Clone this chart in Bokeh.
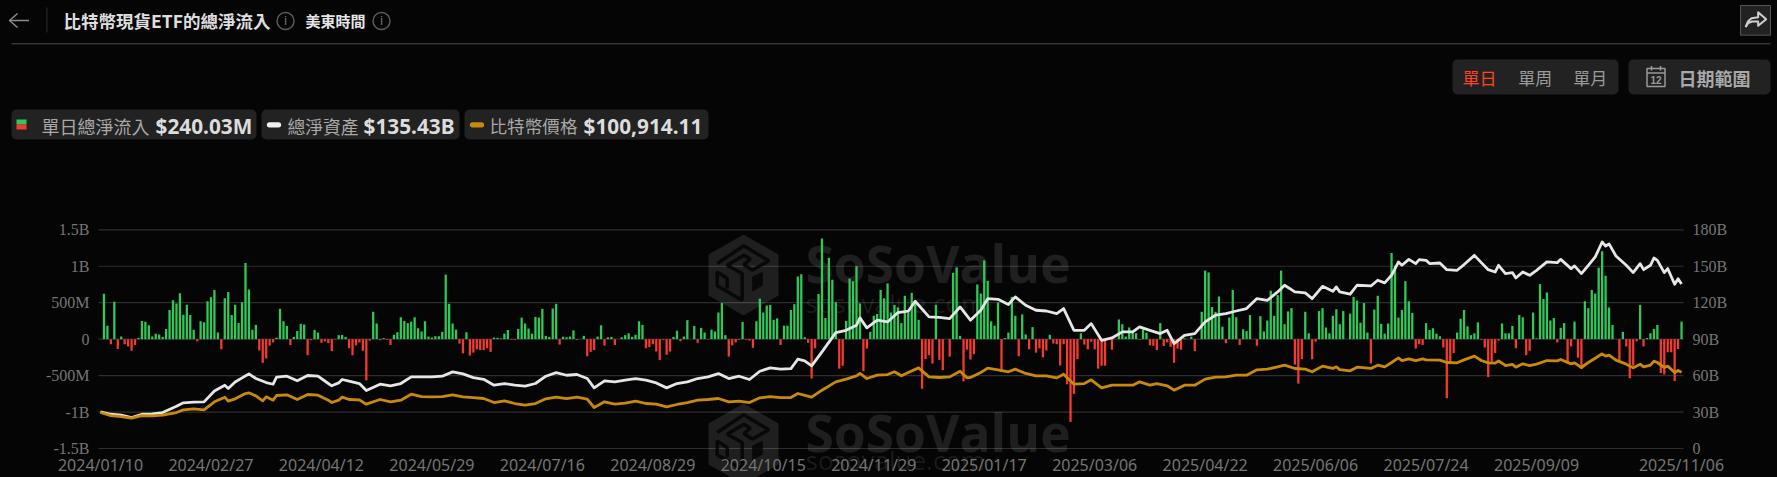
from bokeh.plotting import figure
from bokeh.layouts import column
from bokeh.models import (Range1d, LinearAxis, FixedTicker)
from bokeh.core.properties import value
from bokeh.embed import file_html
from bokeh.resources import INLINE

BG = "#050505"
CJK = "Noto Sans CJK TC"

# daily net inflow, USD million, one bar per trading day from 2024/01/11
flows_a = [624,183,-70,513,-135,37,-70,-100,-160,-80,
           15,250,240,190,35,75,65,30,140,400,
           535,490,630,335,470,330,130,-30,245,230,
           520,575,675,90,-140,560,645,330,470,220,
           505,1045,680,130,195,-155,-325,-265,-90,-45,
           20,415,245,180,-80,30,110,210,200,-220,
           -15,125,90,-50,-30,-55,-165,-5,55,58,
           30,-125,-220,-85,-45,-160,-565,-20,375,215,
           -15,15,-10,-80,60,95,300,250,220,240,
           300,150,105,245,35,20,40,40,100,885,
           485,215,130,-60,-195,95,-225,-185,-140,-150,
           -150,-125,-175]
flows_b = [22,18,8,75,125,-8,-10,140,295,215,
           145,75,305,295,415,45,30,420,485,-75,
           35,25,35,120,-10,0,45,-235,-175,-150,
           35,190,-90,25,30,-80,0,25,55,80,
           30,60,245,195,-125,-110,-70,-170,-285,-10,
           -215,-170,30,115,-30,35,260,0,180,-50,
           155,90,-5,130,105,365,495,55,-240,-85,
           -45,-10,235,-10,-20,-120,245,555,365,460,
           470,265,285,-80,185,185,400,480,860,890,
           25,-50,-540,-125,620,1380,290,1115,815,505,
           -405,-365,250,830,795,1000,490,-440,-130,100,
           320,345,675,560,765,365,470,435,220,595,
           365,635,505,265,-680,-275,-220]
flows_c = [-335,470,-285,-425,0,-240,910,985,45,-580,
           -145,-280,-205,750,625,1080,800,245,185,505,
           -450,15,90,580,320,-235,340,65,-140,165,
           -185,-125,-250,-155,60,-60,-70,-360,-70,-620,
           -1135,-750,-275,80,-75,-140,-35,-140,-405,-365,
           -365,0,-145,0,270,205,35,160,115,80,
           -10,135,90,-85,-90,-150,220,-95,-45,-105,
           -325,-130,-145,10,0,35,-165,0,375,940,
           915,440,375,585,170,-55,295,675,300,-80,
           135,110,330,0,-90,315,105,255,665,320,
           605,940,205,380,425,-350,-610,-275,375,80,
           -275,-35,385,425,160,80,320,410,205,385,
           0,350,580,530,225,495,90,-335]
flows_d = [405,595,210,75,215,1180,1010,295,400,795,
           520,360,-130,-70,-80,220,125,150,75,40,
           -115,-810,-320,-190,90,280,400,175,55,80,
           230,-10,-115,-520,-320,-190,-20,215,80,80,
           180,-125,330,300,-220,-160,365,10,755,550,
           640,255,290,-45,155,220,-335,-100,240,-255,
           -410,520,425,675,625,980,1205,870,435,195,
           0,-305,100,-100,-535,-365,-30,470,-100,15,
           80,140,195,-465,-485,-180,-180,-575,-135,240]
flows = flows_a + flows_b + flows_c + flows_d
flow_days = list(range(1, len(flows) + 1))

# total net assets, USD billion
asset_days = [0,3,6,9,12,15,18,22,24,27,30,33,36,37,39,42,43,45,48,50,51,54,57,60,63,66,67,69,70,72,75,77,81,84,87,90,93,96,99,102,105,108,111,114,
              117,120,123,126,129,132,135,138,141,143,146,149,152,155,158,161,164,167,170,173,176,179,182,185,188,191,194,197,200,202,204,206,209,
              213,216,219,220,222,225,228,231,234,236,240,243,246,249,252,255,257,260,263,265,268,271,274,277,279,282,285,287,290,293,296,299,301,304,307,309,311,314,317,320,323,326,329,332,335,338,341,343,346,349,351,354,357,358,
              359,362,364,368,370,372,374,376,377,379,381,382,384,385,388,390,393,395,398,400,402,404,405,407,409,410,412,414,416,419,422,423,426,427,429,431,433,435,436,437,439,442,444,446,447,449,450,451,453,454,456,457,458]
asset_vals = [30.2,28.2,27.4,25.5,28.2,28.5,29.6,34.8,37.6,38.1,38.4,47.4,52.1,49.4,54.8,59.8,61.4,57.6,54.3,52.9,58.7,59.5,55.7,60.1,59.5,53.5,51.6,54.0,56.8,55.4,53.5,47.7,52.9,51.6,53.5,59.0,59.0,59.0,59.5,63.1,61.4,58.4,57.0,52.1,
              53.5,52.1,51.3,53.5,59.5,62.5,60.3,60.9,57.6,49.9,55.7,54.8,56.2,57.6,56.2,54.0,49.9,53.5,54.8,57.6,59.0,61.7,57.6,59.5,56.8,63.6,66.4,65.3,65.8,73.5,72.1,68.0,79.5,
              95.4,97.3,101.5,107.5,99.3,105.6,104.2,111.9,113.0,121.2,108.3,108.0,106.9,116.5,105.6,113.8,123.4,122.8,118.5,124.8,117.9,113.8,113.2,111.1,115.2,97.3,97.3,102.8,89.1,91.0,96.0,96.0,100.1,97.3,94.6,97.3,86.4,93.2,94.6,104.2,109.7,111.1,113.2,115.2,123.4,122.0,128.9,134.4,128.9,128.1,123.4,133.5,129.4,133.0,
              128.9,127.0,134.4,133.8,138.5,136.3,142.6,153.6,150.8,155.7,152.2,155.5,154.9,152.2,152.7,147.2,146.7,151.4,159.0,153.0,147.2,145.3,150.8,144.0,144.8,140.4,145.3,142.6,146.7,153.6,153.0,155.7,148.1,150.3,144.0,150.8,157.7,170.0,166.7,168.4,158.5,150.8,144.8,152.2,147.2,150.8,156.8,154.9,144.8,148.1,135.2,139.8,135.43]

# bitcoin price, USD thousand
price_days = [0,3,6,9,12,15,18,22,24,27,30,33,36,37,39,42,43,45,47,48,50,51,54,57,60,63,66,67,69,70,72,75,77,81,84,87,90,93,96,99,102,105,108,111,114,
              117,120,123,126,129,132,135,138,141,143,146,149,152,155,158,161,164,167,170,173,176,179,182,185,188,191,194,197,200,202,206,209,
              213,216,219,220,222,225,228,230,232,234,237,240,243,246,249,251,252,255,257,260,263,265,268,271,274,277,279,282,285,287,290,293,296,299,301,304,306,309,311,314,317,320,323,326,329,332,335,338,341,343,346,349,351,354,357,358,
              359,362,364,368,370,372,374,376,377,379,381,383,384,388,390,393,395,398,400,402,404,405,407,409,410,412,414,416,419,422,423,426,427,429,431,433,435,436,437,439,442,444,446,447,449,450,451,453,454,456,457,458]
price_vals = [47.6,43.6,42.3,40.1,43.6,43.2,44.1,47.6,51.1,52.4,51.1,61.7,67.9,62.6,65.7,72.7,73.6,69.6,63.0,68.3,63.9,70.1,71.0,64.8,71.4,70.5,63.9,60.8,63.9,67.9,64.8,64.3,58.6,64.8,61.7,63.9,71.8,68.7,68.3,68.7,71.0,68.3,67.4,66.1,60.8,
              63.0,59.5,57.3,59.5,65.7,67.9,66.1,67.9,65.2,54.2,61.7,58.6,59.9,62.6,59.5,58.6,55.1,58.2,60.8,63.9,64.8,66.1,61.7,62.6,60.8,67.0,68.7,67.4,67.4,72.7,67.9,77.1,
              88.1,91.7,96.1,99.2,92.5,97.0,97.8,101.4,96.1,100.5,106.6,94.7,93.9,94.7,102.2,93.4,93.9,100.5,106.2,104.0,101.4,104.9,99.2,96.1,96.1,93.4,98.3,85.1,85.9,90.8,80.2,83.7,83.7,83.7,88.1,83.7,85.9,82.9,77.1,83.7,83.7,91.7,94.3,94.7,97.0,97.0,104.0,104.9,108.0,110.2,105.8,104.9,101.4,108.9,105.8,108.0,
              104.4,102.7,107.5,105.8,110.2,108.0,113.7,119.9,116.3,118.5,116.3,118.5,117.2,116.8,113.7,113.3,117.2,122.1,116.3,113.3,112.8,115.9,109.7,111.1,107.5,111.9,109.7,111.5,116.3,115.9,117.7,111.9,113.3,107.1,113.7,119.4,125.2,122.1,123.4,116.8,111.5,106.6,111.5,108.0,110.2,115.5,113.7,107.1,108.9,100.5,103.1,100.914]

tick_days = [0,32,64,96,128,160,192,224,256,288,320,352,384,416,458]
tick_labels = ["2024/01/10","2024/02/27","2024/04/12","2024/05/29","2024/07/16","2024/08/29","2024/10/15","2024/11/29",
               "2025/01/17","2025/03/06","2025/04/22","2025/06/06","2025/07/24","2025/09/09","2025/11/06"]
flow_ticks = [-1500,-1000,-500,0,500,1000,1500]
flow_labels = ["-1.5B","-1B","-500M","0","500M","1B","1.5B"]
asset_ticks = [0,30,60,90,120,150,180]
asset_labels = ["0","30B","60B","90B","120B","150B","180B"]

X0, X1 = -0.579, 458.6

# ---------------- chart ----------------
p = figure(width=1777, height=262, output_backend="svg", toolbar_location=None,
           x_axis_location=None, y_axis_location=None,
           x_range=Range1d(-28.97, 485.8), y_range=Range1d(-1898, 1696),
           min_border=0, frame_align=False,
           background_fill_color=BG, border_fill_color=BG, outline_line_color=None)
p.xgrid.visible = False
p.ygrid.visible = False
p.extra_y_ranges = {"assets": Range1d(-23.87, 191.8), "price": Range1d(-38.3, 308.0), "wy": Range1d(477, 215)}
p.extra_x_ranges = {"wx": Range1d(0, 1777)}

p.segment(x0=[X0] * 7, x1=[X1] * 7, y0=flow_ticks, y1=flow_ticks, line_color="#2e2e2e", line_width=1.2)

# watermark
def wm(dy, small_y):
    hx = [743, 778, 778, 743, 708, 708]
    hy = [234, 254, 295, 315, 295, 254]
    p.patch(hx, [v + dy for v in hy], x_range_name="wx", y_range_name="wy",
            fill_color="#ffffff", fill_alpha=0.105, line_color=None)
    cut = [(50,105),(130,52),(205,97),(155,125),(130,108),(150,92),(130,80),(80,110),(125,135),(125,215),(50,172),(50,130),(80,150),(80,180)]
    p.line([700 + a / 3 for a, b in cut], [228 + b / 3 + dy for a, b in cut], x_range_name="wx", y_range_name="wy",
           line_color=BG, line_width=3.5, line_alpha=0.85)
    box = [(155,145),(187,130),(187,170),(155,190)]
    p.patch([700 + a / 3 for a, b in box], [228 + b / 3 + dy for a, b in box], x_range_name="wx", y_range_name="wy",
            fill_color=BG, fill_alpha=0.85, line_color=None)
    p.text([805], [262 + dy], text=["SoSoValue"], x_range_name="wx", y_range_name="wy",
           text_font=value("Open Sans"), text_font_style="bold", text_font_size="51.5px",
           text_color="#ffffff", text_alpha=0.105, text_baseline="middle", text_align="left")
    p.text([805], [small_y], text=["sosovalue.com"], x_range_name="wx", y_range_name="wy",
           text_font=value("Open Sans"), text_font_size="26px",
           text_color="#ffffff", text_alpha=0.09, text_baseline="middle", text_align="left")
wm(0, 302)
wm(169, 459)

up_x = [d for d, f in zip(flow_days, flows) if f >= 0]
up_y = [f for f in flows if f >= 0]
dn_x = [d for d, f in zip(flow_days, flows) if f < 0]
dn_y = [f for f in flows if f < 0]
p.vbar(x=up_x, top=up_y, bottom=0, width=0.66, fill_color="#2fc95a", line_color=None)
p.vbar(x=dn_x, top=dn_y, bottom=0, width=0.66, fill_color="#f53a30", line_color=None)

p.line(asset_days, asset_vals, y_range_name="assets", line_color="#e6e6e6", line_width=2.8, line_join="round")
p.line(price_days, price_vals, y_range_name="price", line_color="#c98a0c", line_width=2.8, line_join="round")

def style(ax, size, font, standoff):
    ax.axis_line_color = None
    ax.major_tick_line_color = None
    ax.minor_tick_line_color = None
    ax.major_tick_in = 0
    ax.major_tick_out = 0
    ax.major_label_text_color = "#757575"
    ax.major_label_text_font = font
    ax.major_label_text_font_size = size
    ax.major_label_standoff = standoff

left = LinearAxis(ticker=FixedTicker(ticks=flow_ticks), major_label_overrides=dict(zip(flow_ticks, flow_labels)), fixed_location=X0)
style(left, "16px", "Liberation Serif", 9)
p.add_layout(left, "left")
right = LinearAxis(y_range_name="assets", ticker=FixedTicker(ticks=asset_ticks), major_label_overrides=dict(zip(asset_ticks, asset_labels)), fixed_location=X1)
style(right, "16px", "Liberation Serif", 9)
p.add_layout(right, "right")
bottom = LinearAxis(ticker=FixedTicker(ticks=tick_days), major_label_overrides=dict(zip(tick_days, tick_labels)), fixed_location=-1500)
style(bottom, "16px", "Noto Sans", 6)
p.add_layout(bottom, "below")

# ---------------- page header ----------------
top = figure(width=1777, height=215, output_backend="svg", toolbar_location=None,
             x_axis_location=None, y_axis_location=None,
             x_range=Range1d(0, 1777), y_range=Range1d(215, 0),
             min_border=0, frame_align=False, background_fill_color=BG, border_fill_color=BG, outline_line_color=None)
top.xgrid.visible = False
top.ygrid.visible = False

def txt(x, y, s, size, color, bold=False, align="left", font=CJK):
    top.text([x], [y], text=[s], text_font=value(font), text_font_size=f"{size}px",
             text_font_style="bold" if bold else "normal", text_color=color,
             text_align=align, text_baseline="middle")

def pill(l, r, t, b, color="#222222", radius=5):
    top.quad(left=l, right=r, top=t, bottom=b, fill_color=color, line_color=None, border_radius=radius)

def info(x, y):
    top.scatter([x], [y], size=17, marker="circle", fill_alpha=0, line_color="#5a5a5a", line_width=1.5)
    txt(x, y, "i", 12, "#7a7a7a", align="center", font="Liberation Sans")

top.line([9, 28.5], [20, 20], line_color="#8a8a8a", line_width=1.5)
top.line([17, 9, 17], [13, 20, 27], line_color="#8a8a8a", line_width=1.5)
top.line([46.4, 46.4], [7, 32], line_color="#2e2e2e", line_width=1)
txt(63, 20, "比特幣現貨ETF的總淨流入", 17.5, "#dedede", True)
info(285, 20.5)
txt(305, 20, "美東時間", 15, "#e6e6e6", True)
info(381, 20.5)
top.line([11, 1770], [43.3, 43.3], line_color="#4d4d4d", line_width=1)

top.quad(left=1740, right=1770, top=5, bottom=34.7, fill_color="#222222", line_color="#555555", line_width=1)
sx = [30,38,48,68,68,92,68,68,50,38,30]
sy = [80,62,53,50,35,56,76,63,63,68,80]
top.line([1735 + v / 3 for v in sx], [v / 3 for v in sy], line_color="#cfcfcf", line_width=2, line_join="round")

pill(1452, 1618, 59, 94)
txt(1479, 77, "單日", 17, "#ff4422", align="center")
txt(1534.7, 77, "單周", 17, "#9a9a9a", align="center")
txt(1589.7, 77, "單月", 17, "#9a9a9a", align="center")
pill(1628, 1770, 59, 94)
top.quad(left=1646.5, right=1664.5, top=68, bottom=86, fill_color=None, line_color="#9a9a9a", line_width=1.5)
top.line([1646.5, 1664.5], [72.5, 72.5], line_color="#9a9a9a", line_width=1.5)
top.segment([1651, 1660], [65.5, 65.5], [1651, 1660], [70, 70], line_color="#9a9a9a", line_width=1.5)
txt(1655.5, 79.5, "12", 10, "#9a9a9a", True, "center", "Liberation Sans")
txt(1678, 77, "日期範圍", 18, "#a8a8a8", True)

pill(11, 256, 109, 139)
top.quad(left=16, right=26, top=119, bottom=124, fill_color="#2fc95a", line_color=None)
top.quad(left=16, right=26, top=124, bottom=129, fill_color="#f53a30", line_color=None)
txt(41, 125, "單日總淨流入", 18, "#a8a8a8")
txt(155, 125, "$240.03M", 20.8, "#dcdcdc", True, font="Noto Sans")

pill(261, 459, 109, 139)
top.line([269, 278], [124.3, 124.3], line_color="#f0f0f0", line_width=5.3, line_cap="round")
txt(287, 125, "總淨資產", 17.8, "#a8a8a8")
txt(363, 125, "$135.43B", 20.8, "#dcdcdc", True, font="Noto Sans")

pill(464, 708, 109, 139)
top.line([472, 481], [124.3, 124.3], line_color="#c98a0c", line_width=5.3, line_cap="round")
txt(489, 125, "比特幣價格", 17.6, "#a8a8a8")
txt(583, 125, "$100,914.11", 20.8, "#dcdcdc", True, font="Noto Sans")

page = column(top, p, spacing=0)
html = file_html(page, INLINE)
html = html.replace("<head>", "<head><style>html,body{background:#050505;margin:0;overflow:hidden}</style>", 1)
open("out.html", "w").write(html)
